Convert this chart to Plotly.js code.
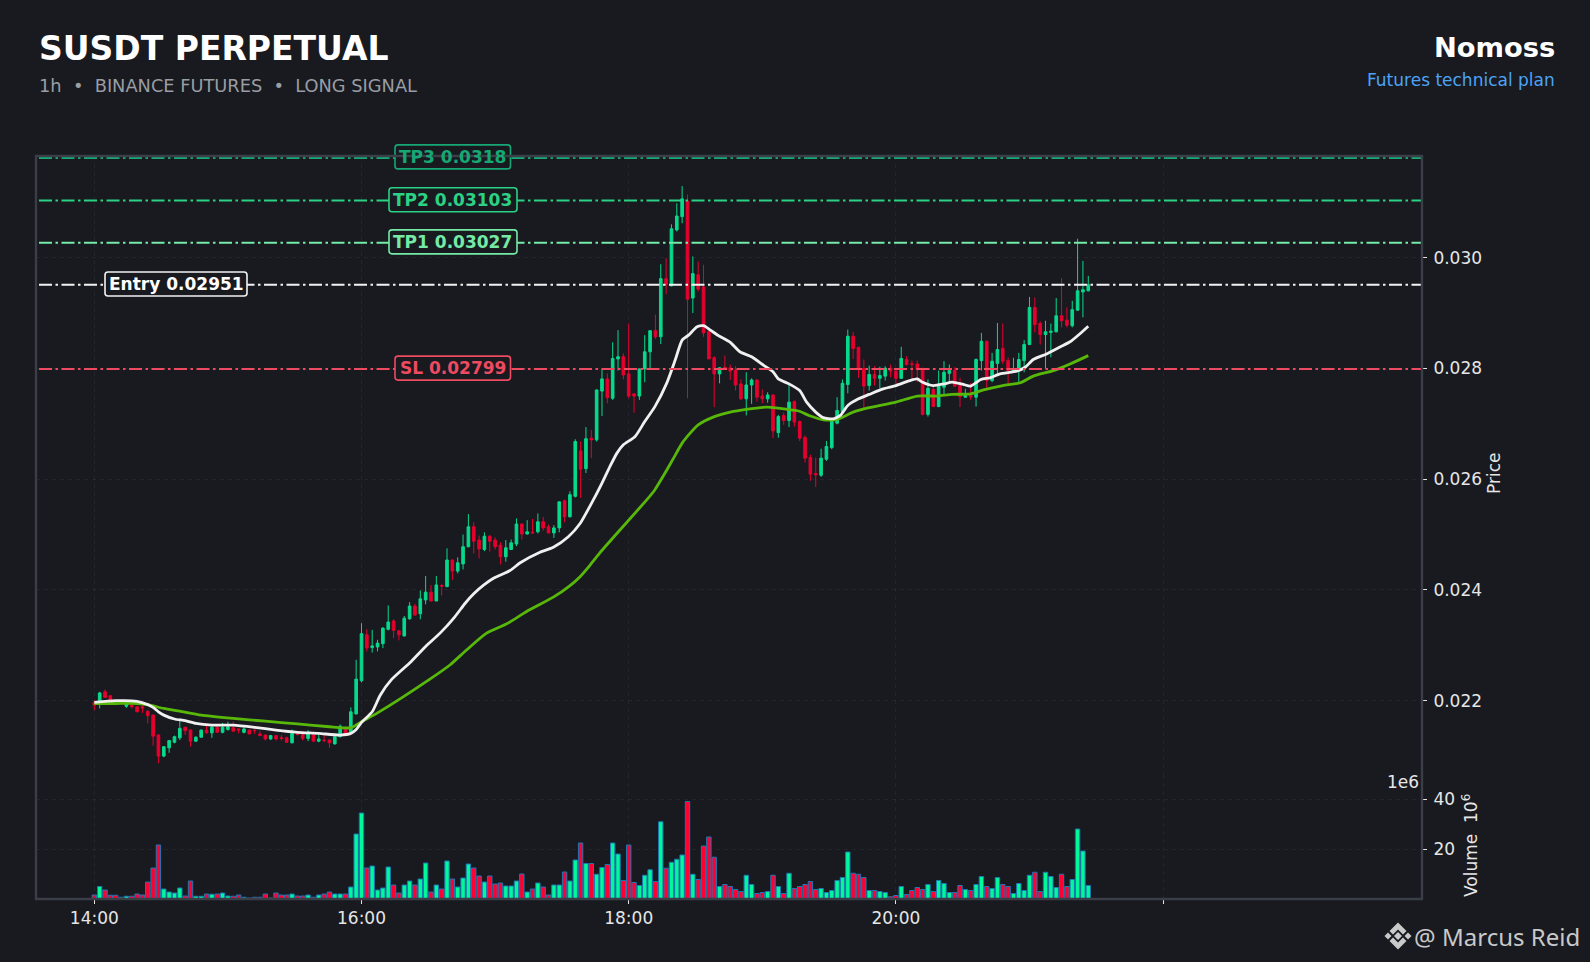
<!DOCTYPE html>
<html><head><meta charset="utf-8">
<script src="https://cdn.plot.ly/plotly-3.0.1.min.js"></script>
<style>html,body{margin:0;padding:0;background:#181a20;overflow:hidden}#c{width:1590px;height:962px}</style>
</head><body><div id="c"></div>
<script>
const opens=[.02197,.02195,.02216,.02209,.02198,.02197,.02190,.02192,.02189,.02189,
.02181,.02174,.02138,.02100,.02115,.02125,.02133,.02152,.02147,.02127,
.02134,.02147,.02142,.02152,.02143,.02148,.02151,.02149,.02143,.02147,
.02147,.02140,.02138,.02131,.02137,.02133,.02133,.02124,.02140,.02139,
.02132,.02138,.02127,.02129,.02129,.02122,.02135,.02149,.02144,.02176,
.02236,.02319,.02296,.02297,.02303,.02329,.02344,.02326,.02317,.02348,
.02371,.02357,.02382,.02396,.02380,.02408,.02406,.02454,.02434,.02447,
.02478,.02514,.02490,.02473,.02497,.02490,.02481,.02460,.02473,.02483,
.02519,.02501,.02504,.02505,.02523,.02514,.02503,.02512,.02561,.02532,
.02569,.02651,.02619,.02674,.02671,.02759,.02781,.02746,.02817,.02821,
.02790,.02754,.02750,.02799,.02830,.02868,.02857,.02962,.02949,.03050,
.03074,.03102,.02927,.02969,.02947,.02866,.02819,.02790,.02802,.02801,
.02797,.02772,.02745,.02770,.02779,.02750,.02745,.02752,.02684,.02715,
.02706,.02740,.02704,.02675,.02639,.02610,.02607,.02636,.02657,.02701,
.02722,.02771,.02858,.02838,.02800,.02769,.02789,.02782,.02786,.02800,
.02795,.02782,.02816,.02808,.02808,.02800,.02717,.02762,.02731,.02766,
.02791,.02796,.02769,.02748,.02751,.02748,.02814,.02849,.02778,.02809,
.02836,.02814,.02795,.02796,.02814,.02843,.02910,.02881,.02861,.02865,
.02866,.02895,.02887,.02877,.02905,.02938,.02940];
const highs=[.02201,.02216,.02220,.02210,.02199,.02198,.02196,.02193,.02190,.02192,
.02183,.02175,.02139,.02118,.02129,.02137,.02168,.02153,.02148,.02136,
.02148,.02159,.02156,.02156,.02160,.02162,.02162,.02150,.02152,.02148,
.02148,.02145,.02139,.02138,.02138,.02138,.02135,.02148,.02145,.02145,
.02147,.02139,.02138,.02138,.02130,.02136,.02157,.02153,.02188,.02274,
.02340,.02329,.02328,.02310,.02333,.02372,.02347,.02328,.02353,.02378,
.02375,.02399,.02425,.02409,.02425,.02411,.02475,.02455,.02459,.02500,
.02537,.02522,.02498,.02504,.02499,.02495,.02486,.02490,.02491,.02529,
.02520,.02526,.02528,.02538,.02532,.02518,.02517,.02560,.02563,.02578,
.02672,.02668,.02694,.02689,.02762,.02799,.02791,.02847,.02869,.02827,
.02881,.02755,.02800,.02860,.02869,.02897,.02988,.02999,.03060,.03098,
.03129,.03114,.03002,.02993,.02987,.02867,.02822,.02802,.02823,.02807,
.02804,.02780,.02793,.02782,.02780,.02762,.02757,.02753,.02716,.02720,
.02771,.02742,.02706,.02679,.02644,.02639,.02655,.02669,.02709,.02748,
.02780,.02870,.02866,.02839,.02816,.02805,.02804,.02803,.02804,.02807,
.02800,.02839,.02822,.02814,.02814,.02801,.02780,.02768,.02796,.02813,
.02807,.02802,.02783,.02763,.02774,.02818,.02864,.02850,.02828,.02882,
.02881,.02820,.02819,.02828,.02851,.02929,.02928,.02885,.02886,.02881,
.02927,.02963,.02910,.02922,.03034,.02994,.02967];
const lows=[.02183,.02186,.02205,.02200,.02194,.02194,.02187,.02186,.02180,.02178,
.02159,.02119,.02087,.02098,.02106,.02123,.02129,.02138,.02117,.02126,
.02134,.02141,.02133,.02142,.02141,.02146,.02145,.02141,.02141,.02140,
.02140,.02137,.02128,.02129,.02128,.02128,.02124,.02123,.02137,.02128,
.02127,.02127,.02125,.02125,.02115,.02121,.02134,.02140,.02143,.02176,
.02233,.02289,.02287,.02289,.02295,.02327,.02313,.02309,.02316,.02346,
.02353,.02347,.02374,.02380,.02380,.02390,.02405,.02418,.02430,.02437,
.02477,.02466,.02457,.02470,.02469,.02473,.02446,.02451,.02472,.02479,
.02491,.02500,.02502,.02502,.02507,.02502,.02494,.02504,.02522,.02531,
.02567,.02566,.02611,.02638,.02668,.02714,.02737,.02743,.02796,.02780,
.02746,.02720,.02743,.02775,.02797,.02853,.02844,.02934,.02948,.03047,
.03062,.02746,.02900,.02939,.02857,.02817,.02730,.02773,.02797,.02779,
.02760,.02743,.02715,.02736,.02740,.02737,.02738,.02674,.02675,.02698,
.02694,.02695,.02669,.02630,.02597,.02586,.02604,.02633,.02654,.02699,
.02721,.02755,.02817,.02783,.02729,.02760,.02769,.02764,.02778,.02784,
.02771,.02781,.02805,.02781,.02775,.02715,.02713,.02730,.02730,.02751,
.02774,.02767,.02730,.02747,.02743,.02731,.02796,.02764,.02775,.02789,
.02808,.02772,.02793,.02774,.02793,.02842,.02865,.02843,.02800,.02820,
.02865,.02874,.02874,.02874,.02904,.02892,.02939];
const closes=[.02192,.02214,.02206,.02201,.02195,.02195,.02195,.02189,.02180,.02187,
.02173,.02136,.02100,.02117,.02128,.02135,.02150,.02146,.02127,.02134,
.02147,.02142,.02152,.02143,.02152,.02153,.02145,.02147,.02149,.02140,
.02146,.02137,.02131,.02137,.02131,.02132,.02125,.02141,.02139,.02132,
.02140,.02127,.02131,.02128,.02124,.02135,.02154,.02141,.02180,.02239,
.02321,.02295,.02299,.02304,.02331,.02342,.02327,.02319,.02349,.02371,
.02355,.02384,.02396,.02380,.02409,.02407,.02454,.02434,.02449,.02478,
.02514,.02488,.02474,.02497,.02488,.02478,.02460,.02476,.02485,.02519,
.02501,.02505,.02503,.02523,.02512,.02503,.02512,.02559,.02532,.02572,
.02668,.02618,.02673,.02671,.02761,.02781,.02747,.02818,.02821,.02788,
.02750,.02750,.02799,.02830,.02868,.02857,.02962,.02951,.03052,.03075,
.03106,.02925,.02971,.02943,.02864,.02817,.02790,.02801,.02800,.02795,
.02770,.02745,.02770,.02779,.02748,.02745,.02752,.02687,.02713,.02706,
.02739,.02703,.02674,.02638,.02609,.02608,.02638,.02659,.02704,.02724,
.02773,.02858,.02836,.02800,.02768,.02789,.02782,.02787,.02800,.02795,
.02782,.02818,.02807,.02807,.02798,.02717,.02764,.02731,.02768,.02793,
.02796,.02768,.02749,.02751,.02748,.02816,.02849,.02778,.02813,.02834,
.02813,.02796,.02798,.02816,.02843,.02910,.02879,.02861,.02866,.02867,
.02895,.02886,.02878,.02906,.02940,.02942,.02951];
const volumesM=[1.6,5,3.6,1.5,1.5,.7,1.1,1.1,2,1.6,6.8,12.4,21.6,4,2.8,2.4,4.4,1.2,7.2,1.1,
1.1,2,1.9,2,2.4,1.2,1.1,1.6,.7,.4,.7,.7,2,.4,2.4,1.6,1.6,2,1.2,1.2,
1.6,.7,1.6,2,2.8,2,2,2,4.8,26,34.4,12.4,13.2,3.6,4.4,12.8,5.6,2.4,5.6,7.2,
5.6,8,14.4,2.8,5.6,4,15.2,8,4.8,8.4,14,12.4,9.2,6.8,9.2,6,6.4,5.2,5.2,7.2,
10,2.8,4,6.4,4.8,1.6,5.6,5.6,10.8,7.2,15.6,22.4,14.2,14.2,9.9,12.6,13.8,22.4,18,7.4,
21.6,6.6,5.4,9.5,11.7,7,30.9,12.3,14.7,15.9,17.6,39,9.9,7.8,21.2,24.8,16.7,5,5.8,5,
3.8,3,9.5,5.8,2.2,2.6,3,9.5,5,2.2,10.3,4.2,5,5.8,7,3.8,4.2,2.6,3.4,7.4,
8.6,18.8,10.3,9.9,8.6,3.4,3.4,3,2.6,.9,1.4,5,1.8,3.4,4.6,3.8,5.8,3,7.4,6.2,
2.6,2.6,5.4,3.8,3.4,5.8,9,5,4.2,8.6,5.8,5,2.2,6.2,3.4,9.5,10.7,3,10.7,9,
4.6,9.9,5,7.8,28,19.2,5.4];
const fastX=[0,4,8,10,11,12,13,15,17,19,22,26,30,34,38,42,46,48,49,50,52,53.5,55.6,59,62,64.7,67.5,69.4,71,72.9,74.7,77.8,79.7,83.4,85.9,88.7,90.9,93.4,95,96.5,97.8,99,101.2,103,104.9,107.1,108.7,110,111.2,112.8,114,115.3,116.8,119,120.8,123,125.2,127,128,130,132,133.3,135,136.4,138.3,139.6,141,143,145,147.6,150,152.6,154,155,157,159,160.5,162.6,164,165.9,167.6,169.5,172.6,174.2,175.7,178.2,180.8,182.6,184.5,186];
const fastY=[.02197,.02200,.02199,.02193,.02188,.02180,.02174,.02167,.02164,.02159,.02156,.02156,.02152,.02147,.02143,.02141,.02138,.02141,.02148,.02161,.02180,.02210,.02238,.02268,.02298,.02322,.02352,.02376,.02393,.02409,.02421,.02435,.02449,.02468,.02477,.02496,.02520,.02563,.02593,.02623,.02647,.02662,.02677,.02704,.02731,.02773,.02815,.02851,.02860,.02875,.02877,.02869,.02859,.02847,.02830,.02821,.02806,.02794,.02781,.02772,.02760,.02739,.02721,.02711,.02709,.02715,.02733,.02745,.02753,.02763,.02769,.02778,.02781,.02775,.02769,.02772,.02775,.02771,.02768,.02780,.02783,.02790,.02795,.02802,.02816,.02826,.02839,.02848,.02863,.02876];
const slowX=[0,4,8,10,13,16,20,26,32,38,44,48,49,50,53,62.8,66.6,69.7,73.4,77.2,80.9,85.9,88.9,90.9,92.7,94.6,103.4,104.9,106.8,108.4,110,111.5,113,115.8,119,122,126,129.6,131.8,134,136.5,139,142,145,150,154,157.7,160.5,164,166.4,170,173.3,175.7,179.5,182.6,186];
const slowY=[.02195,.02195,.02195,.02193,.02186,.02181,.02174,.02168,.02163,.02158,.02153,.02151,.02156,.02162,.02178,.02239,.02265,.02292,.02322,.02339,.02361,.02387,.02407,.02424,.02444,.02467,.02563,.02581,.02611,.02638,.02665,.02683,.02698,.02712,.02721,.02726,.02730,.02726,.02723,.02714,.02707,.02708,.02721,.02729,.02739,.02750,.02750,.02753,.02754,.02761,.02769,.02774,.02786,.02796,.02808,.02823];
const barIndex=opens.map((_,i)=>i);
const xTickVals=[0,50,100,150,200];
const xTickText=["14:00","16:00","18:00","20:00",""];
const levelNames=["TP3 0.0318","TP2 0.03103","TP1 0.03027","Entry 0.02951","SL 0.02799"];
const levelPrices=[0.0318,0.03103,0.03027,0.02951,0.02799];
const levelColors=["#16a874","#2bd184","#74eaa6","#f2f2f2","#ee4a60"];
const levelLabelX=[67.1,67.1,67.1,15.3,67.1];
const levelBoxLeft=[395,389,389,105,395];
const levelBoxRight=[510.5,517,517,247,510.5];

const L=36,R=1422,T=156,B=899;
const W=R-L,H=B-T;
const px=x=>(x-L)/W, py=y=>(B-y)/H;
const yTop=T,yBot=775;
const priceTop=0.031834,priceBot=0.020659;
const priceToPx=p=>yTop+(priceTop-p)/(priceTop-priceBot)*(yBot-yTop);
const textA=(t,x,y,xa,size,color,bold,extra)=>Object.assign({text:bold?'<b>'+t+'</b>':t,xref:'paper',yref:'paper',x:px(x),y:py(y),xanchor:xa,yanchor:'middle',showarrow:false,font:{family:'DejaVu Sans',size:size,color:color}},extra||{});
const poly=(pts,color)=>({type:'path',xref:'paper',yref:'paper',layer:'above',fillcolor:color,line:{width:0},path:'M'+pts.map(p=>px(p[0])+','+py(p[1])).join(' L')+' Z'});
const roundBox=(x0,x1,y0,y1,r,stroke)=>{const P=(x,y)=>px(x)+','+py(y);return {type:'path',xref:'paper',yref:'paper',layer:'above',fillcolor:'#181a20',line:{color:stroke,width:1.6},
 path:`M${P(x0+r,y0)} L${P(x1-r,y0)} Q${P(x1,y0)} ${P(x1,y0+r)} L${P(x1,y1-r)} Q${P(x1,y1)} ${P(x1-r,y1)} L${P(x0+r,y1)} Q${P(x0,y1)} ${P(x0,y1-r)} L${P(x0,y0+r)} Q${P(x0,y0)} ${P(x0+r,y0)} Z`};};

const shapes=levelPrices.map((p,i)=>({type:'line',xref:'paper',yref:'y',x0:px(39),x1:1,y0:p,y1:p,layer:'above',line:{color:levelColors[i],width:2,dash:'13px,3.5px,2.5px,3.5px'}}));
levelPrices.forEach((p,i)=>{const c=priceToPx(p)-(i==0?1:0.8);shapes.push(roundBox(levelBoxLeft[i],levelBoxRight[i],c-12,c+12,3,levelColors[i]));});
shapes.push({type:'rect',xref:'paper',yref:'paper',x0:0,x1:1,y0:0,y1:1,layer:'above',line:{color:'#3a3e46',width:2.4}});
// Binance mark
const cx=1398,cy=936,mc='#c9c9c9';
shapes.push(poly([[cx,cy-4],[cx+4,cy],[cx,cy+4],[cx-4,cy]],mc));
shapes.push(poly([[cx-13.5,cy],[cx-10,cy-3.5],[cx-6.5,cy],[cx-10,cy+3.5]],mc));
shapes.push(poly([[cx+13.5,cy],[cx+10,cy-3.5],[cx+6.5,cy],[cx+10,cy+3.5]],mc));
shapes.push(poly([[cx,cy-13.5],[cx+8.5,cy-5],[cx+5,cy-1.5],[cx,cy-6.5],[cx-5,cy-1.5],[cx-8.5,cy-5]],mc));
shapes.push(poly([[cx,cy+13.5],[cx+8.5,cy+5],[cx+5,cy+1.5],[cx,cy+6.5],[cx-5,cy+1.5],[cx-8.5,cy+5]],mc));

const annotations=levelNames.map((n,i)=>({text:'<b>'+n+'</b>',x:levelLabelX[i],y:levelPrices[i],xref:'x',yref:'y',yshift:1,showarrow:false,font:{family:'DejaVu Sans',size:17,color:levelColors[i]==='#f2f2f2'?'#ffffff':levelColors[i]}}));
annotations.push(
 textA('SUSDT PERPETUAL',36.5,49,'left',33,'#ffffff',true),
 textA('1h  •  BINANCE FUTURES  •  LONG SIGNAL',36.5,86,'left',17.8,'#9a9da3',false),
 textA('Nomoss',1557,47,'right',27.3,'#ffffff',true),
 textA('Futures technical plan',1557,80,'right',17,'#4da3f5',false),
 textA('1e6',1421,782,'right',17,'#e6e6e6',false),
 textA('@',1438,936,'right',24,'#c9c9c9',false,{font:{family:'Noto Sans',size:24,color:'#c9c9c9'}}),
 textA('Marcus Reid',1582,936,'right',24,'#c9c9c9',false,{font:{family:'Noto Sans',size:24,color:'#c9c9c9'}}),
 textA('Price',1494,474,'center',17,'#e6e6e6',false,{textangle:-90}),
 textA('Volume  10<sup>6</sup>',1470,846,'center',17,'#e6e6e6',false,{textangle:-90})
);

const traces=[
{type:'candlestick',x:barIndex,open:opens,high:highs,low:lows,close:closes,xaxis:'x',yaxis:'y',
 increasing:{line:{color:'#08d98c',width:1},fillcolor:'#08d98c'},decreasing:{line:{color:'#e6002e',width:1},fillcolor:'#e6002e'},showlegend:false,hoverinfo:'skip'},
{type:'bar',x:barIndex,y:volumesM,xaxis:'x',yaxis:'y2',width:0.82,marker:{color:opens.map((o,i)=>closes[i]>=o?'#00f79a':'#ff0033'),line:{color:'#1f77b4',width:1}},showlegend:false,hoverinfo:'skip'},
{type:'scatter',mode:'lines',x:slowX,y:slowY,xaxis:'x',yaxis:'y',line:{color:'#58b80a',width:2.8,shape:'spline',smoothing:0.6},showlegend:false,hoverinfo:'skip'},
{type:'scatter',mode:'lines',x:fastX,y:fastY,xaxis:'x',yaxis:'y',line:{color:'#f0f0f0',width:2.8,shape:'spline',smoothing:0.6},showlegend:false,hoverinfo:'skip'}
];
const gridc='rgba(255,255,255,0.05)';
const layout={width:1590,height:962,margin:{l:L,r:1590-R,t:T,b:962-B,pad:0},paper_bgcolor:'#181a20',plot_bgcolor:'#181a20',
 font:{family:'DejaVu Sans',color:'#e6e6e6',size:17},showlegend:false,dragmode:false,bargap:0,
 xaxis:{anchor:'y2',range:[-10.82-(0.5/5.344),248.45],tickmode:'array',tickvals:xTickVals,ticktext:xTickText,ticks:'outside',ticklen:4,tickcolor:'#e6e6e6',tickwidth:1,showgrid:true,gridcolor:gridc,griddash:'4px,4px',gridwidth:1,zeroline:false,showline:false,rangeslider:{visible:false},tickfont:{size:17,color:'#e6e6e6'}},
 yaxis:{domain:[(B-yBot)/H,1],range:[priceBot,priceTop],side:'right',tickmode:'array',tickvals:[0.022,0.024,0.026,0.028,0.030],ticktext:['0.022','0.024','0.026','0.028','0.030'],ticks:'outside',ticklen:4,tickcolor:'#e6e6e6',showgrid:true,gridcolor:gridc,griddash:'4px,4px',zeroline:false,showline:false,ticklabelstandoff:3,tickfont:{size:17,color:'#e6e6e6'}},
 yaxis2:{domain:[0,(B-yBot)/H],range:[0,(B-yBot)/2.5],side:'right',tickmode:'array',tickvals:[20,40],ticktext:['20','40'],ticks:'outside',ticklen:4,tickcolor:'#e6e6e6',showgrid:true,gridcolor:gridc,griddash:'4px,4px',zeroline:false,showline:false,ticklabelstandoff:3,tickfont:{size:17,color:'#e6e6e6'}},
 shapes,annotations};
Plotly.newPlot('c',traces,layout,{displayModeBar:false,staticPlot:true});
</script></body></html>
